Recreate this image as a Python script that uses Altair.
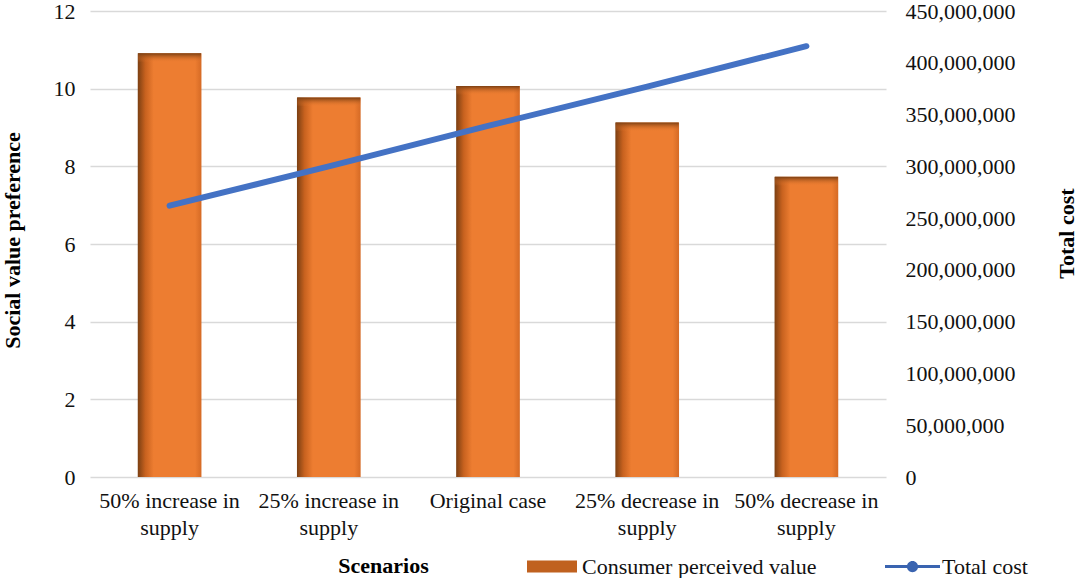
import altair as alt
import pandas as pd

scenarios = ["50% increase in supply", "25% increase in supply", "Original case",
             "25% decrease in supply", "50% decrease in supply"]
perceived_value = [10.91, 9.77, 10.07, 9.13, 7.73]
total_cost = [262000000, 300000000, 339000000, 377000000, 416000000]
left_ticks = [0, 2, 4, 6, 8, 10, 12]
right_ticks = [0, 50000000, 100000000, 150000000, 200000000, 250000000,
               300000000, 350000000, 400000000, 450000000]

df = pd.DataFrame({
    "scenario": scenarios,
    "value": perceived_value,
    "cost": total_cost,
    "s1": ["Consumer perceived value"] * 5,
    "s2": ["Total cost"] * 5,
})

FONT = "Liberation Serif"
ORANGE = "#ED7D31"
BROWN = "#7B3F12"

x_enc = alt.X(
    "scenario:N", sort=scenarios,
    scale=alt.Scale(paddingInner=0.6, paddingOuter=0.3),
    axis=alt.Axis(
        title="Scenarios", titleX=293, titleY=88, titleAlign="center",
        titleBaseline="middle", titleFontWeight="bold", titleFontSize=22,
        labelAngle=0, labelPadding=13, labelLineHeight=27, domain=False, ticks=False,
        labelFont=FONT, labelFontSize=22,
        labelExpr="indexof(datum.label, ' supply') > 0 ? [replace(datum.label, ' supply', ''), 'supply'] : datum.label",
    ),
)

left_axis = alt.Axis(
    orient="left", values=left_ticks, title="Social value preference",
    titleAngle=270, titleX=-78, titleY=229, titleAlign="center", titleBaseline="middle",
    titleFontWeight="bold", titleFontSize=22, domain=False, ticks=False,
    labelFont=FONT, labelFontSize=22,
    labelPadding=15, grid=True, gridColor="#D9D9D9", gridWidth=1.5,
)
y_left = alt.Y("value:Q", scale=alt.Scale(domain=[0, 12], nice=False), axis=left_axis)

bar_gradient = alt.LinearGradient(
    gradient="linear", x1=0, y1=0, x2=1, y2=0,
    stops=[
        alt.GradientStop(offset=0, color=BROWN),
        alt.GradientStop(offset=0.12, color="#C8621F"),
        alt.GradientStop(offset=0.25, color=ORANGE),
        alt.GradientStop(offset=0.9, color=ORANGE),
        alt.GradientStop(offset=1, color="#D56A25"),
    ],
)
top_gradient = alt.LinearGradient(
    gradient="linear", x1=0, y1=0, x2=0, y2=1,
    stops=[
        alt.GradientStop(offset=0, color=BROWN),
        alt.GradientStop(offset=1, color="rgba(237,125,49,0)"),
    ],
)

bars = alt.Chart(df).mark_bar(color=bar_gradient).encode(x=x_enc, y=y_left)
tops = alt.Chart(df).mark_tick(color=top_gradient, thickness=9, size=63, yOffset=4.5, opacity=1).encode(
    x=x_enc, y=y_left)
legend_pts = alt.Chart(df).mark_point(opacity=0, filled=True).encode(
    x=x_enc, y=y_left,
    fill=alt.Fill("s1:N", scale=alt.Scale(range=["#C0611F"]), legend=alt.Legend(
        title=None, orient="none", legendX=449.5, legendY=543, padding=0,
        symbolType="M-2,-0.48L2,-0.48L2,0.48L-2,0.48Z", symbolSize=625,
        symbolOpacity=1, symbolStrokeWidth=0, labelOffset=17.5, labelLimit=0,
        labelFont=FONT, labelFontSize=22, labelColor="#111",
    )),
)

right_axis = alt.Axis(
    orient="right", values=right_ticks, format=",d", title="Total cost",
    titleAngle=270, titleX=180, titleY=222, titleAlign="center", titleBaseline="middle",
    titleFontWeight="bold", titleFontSize=22, domain=False, ticks=False,
    labelFont=FONT, labelFontSize=22,
    labelPadding=19, grid=False,
)
line = alt.Chart(df).mark_line(strokeWidth=6, strokeCap="round").encode(
    x=x_enc,
    y=alt.Y("cost:Q", scale=alt.Scale(domain=[0, 450000000], nice=False), axis=right_axis),
    stroke=alt.Stroke("s2:N", scale=alt.Scale(range=["#4472C4"]), legend=alt.Legend(
        title=None, orient="none", legendX=810, legendY=543, padding=0,
        symbolType="M-2.2,-0.12L2.2,-0.12L2.2,0.12L-2.2,0.12Z M0.45,0A0.45,0.45 0 1,1 -0.45,0A0.45,0.45 0 1,1 0.45,0Z",
        symbolSize=625, symbolFillColor="#3A64B0", symbolStrokeWidth=0, labelOffset=17, labelLimit=0,
        labelFont=FONT, labelFontSize=22, labelColor="#111",
    )),
)

chart = alt.layer(alt.layer(bars, tops, legend_pts), line).resolve_scale(
    y="independent", fill="independent", stroke="independent"
).properties(
    width=796, height=466,
    autosize=alt.AutoSizeParams(type="none"),
    padding={"left": 90, "top": 11, "right": 194, "bottom": 101},
    background="white",
).configure_view(stroke=None).configure_axis(
    labelFont=FONT, titleFont=FONT, labelFontSize=22, labelColor="#111", titleColor="#000",
).configure_legend(labelFont=FONT, labelLimit=0)

chart.save("out.html", embed_options={"renderer": "svg", "actions": False})
